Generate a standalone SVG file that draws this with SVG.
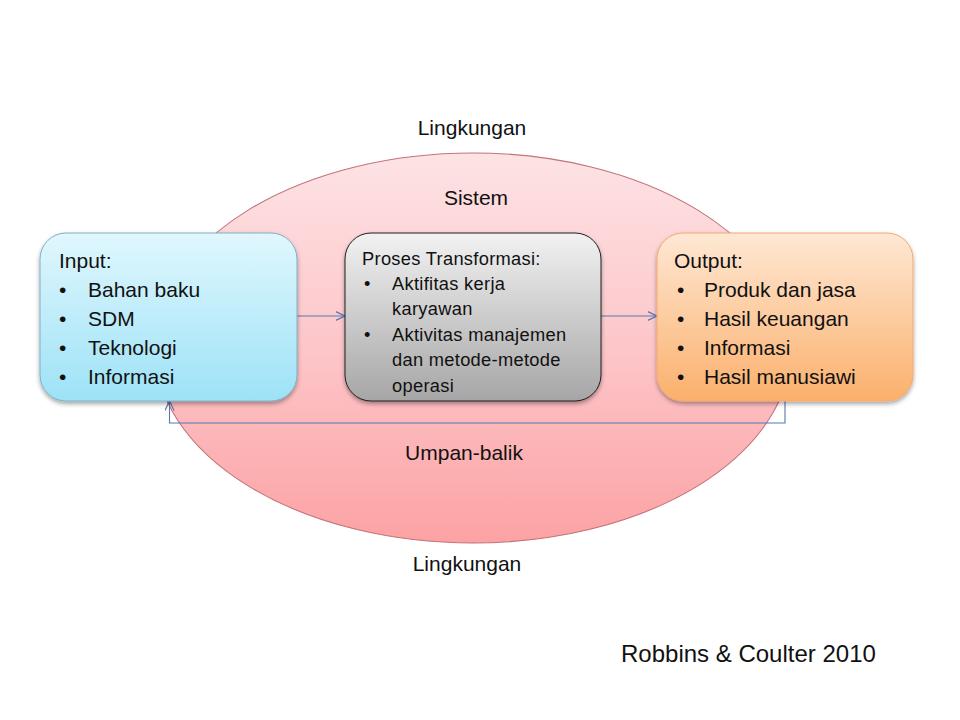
<svg xmlns="http://www.w3.org/2000/svg" width="960" height="720" viewBox="0 0 960 720">
<defs>
<linearGradient id="gEll" x1="0" y1="0" x2="0" y2="1">
<stop offset="0" stop-color="#fde3e5"/>
<stop offset="0.5" stop-color="#fdc6c9"/>
<stop offset="1" stop-color="#fca2a4"/>
</linearGradient>
<linearGradient id="gIn" x1="0" y1="0" x2="0" y2="1">
<stop offset="0" stop-color="#e0f7fd"/>
<stop offset="1" stop-color="#9de2f7"/>
</linearGradient>
<linearGradient id="gPr" x1="0" y1="0" x2="0" y2="1">
<stop offset="0" stop-color="#f2f2f2"/>
<stop offset="1" stop-color="#a6a6a6"/>
</linearGradient>
<linearGradient id="gOut" x1="0" y1="0" x2="0" y2="1">
<stop offset="0" stop-color="#fee8d4"/>
<stop offset="1" stop-color="#fbb06c"/>
</linearGradient>
<filter id="sh" x="-10%" y="-10%" width="120%" height="130%">
<feDropShadow dx="0" dy="2.5" stdDeviation="2" flood-color="#000" flood-opacity="0.35"/>
</filter>
<marker id="arr" viewBox="0 0 10 10" refX="9.5" refY="5" markerWidth="10" markerHeight="10" markerUnits="userSpaceOnUse" orient="auto">
<path d="M0,0.5 L9.5,5 L0,9.5" fill="none" stroke="#5b76b0" stroke-width="1.2"/>
</marker>
<style>
text { font-family: "Liberation Sans", Arial, sans-serif; fill: #111; }
.lbl { font-size: 21px; }
.big { font-size: 21px; }
.sm { font-size: 18.3px; letter-spacing: 0.3px; }
.conn { fill: none; stroke: #5b76b0; stroke-width: 1.1; }
</style>
</defs>

<rect width="960" height="720" fill="#ffffff"/>

<g id="sistem">
<ellipse cx="473" cy="348" rx="318" ry="195" fill="url(#gEll)" stroke="#c2737a" stroke-width="1.1"/>
</g>

<g id="labels">
<text class="lbl" x="472" y="135" text-anchor="middle">Lingkungan</text>
<text class="lbl" x="476" y="205" text-anchor="middle">Sistem</text>
<text class="lbl" x="464" y="460" text-anchor="middle">Umpan-balik</text>
<text class="lbl" x="467" y="571" text-anchor="middle">Lingkungan</text>
<text x="621" y="662" style="font-size:24px">Robbins &amp; Coulter 2010</text>
</g>

<g id="connectors">
<line class="conn" x1="297" y1="316" x2="345" y2="316" marker-end="url(#arr)"/>
<line class="conn" x1="601" y1="316" x2="657" y2="316" marker-end="url(#arr)"/>
<polyline class="conn" points="785,401 785,423 169.5,423 169.5,401" marker-end="url(#arr)"/>
</g>

<g id="input">
<rect x="40" y="233" width="257" height="168" rx="26" fill="url(#gIn)" stroke="#7fb0c4" stroke-width="1" filter="url(#sh)"/>
<text class="big" x="59" y="268">Input:</text>
<text class="big" x="59" y="297">•</text><text class="big" x="88" y="297">Bahan baku</text>
<text class="big" x="59" y="326">•</text><text class="big" x="88" y="326">SDM</text>
<text class="big" x="59" y="355">•</text><text class="big" x="88" y="355">Teknologi</text>
<text class="big" x="59" y="384">•</text><text class="big" x="88" y="384">Informasi</text>
</g>

<g id="proses">
<rect x="345" y="233" width="256" height="168" rx="26" fill="url(#gPr)" stroke="#1f1f1f" stroke-width="1" filter="url(#sh)"/>
<text class="sm" x="362" y="265">Proses Transformasi:</text>
<text class="sm" x="364" y="290">•</text><text class="sm" x="392" y="290">Aktifitas kerja</text>
<text class="sm" x="392" y="315">karyawan</text>
<text class="sm" x="364" y="341">•</text><text class="sm" x="392" y="341">Aktivitas manajemen</text>
<text class="sm" x="392" y="366">dan metode-metode</text>
<text class="sm" x="392" y="392">operasi</text>
</g>

<g id="output">
<rect x="657" y="233" width="256" height="168" rx="26" fill="url(#gOut)" stroke="#f4a870" stroke-width="1" filter="url(#sh)"/>
<text class="big" x="674" y="268">Output:</text>
<text class="big" x="677" y="297">•</text><text class="big" x="704" y="297">Produk dan jasa</text>
<text class="big" x="677" y="326">•</text><text class="big" x="704" y="326">Hasil keuangan</text>
<text class="big" x="677" y="355">•</text><text class="big" x="704" y="355">Informasi</text>
<text class="big" x="677" y="384">•</text><text class="big" x="704" y="384">Hasil manusiawi</text>
</g>
</svg>
